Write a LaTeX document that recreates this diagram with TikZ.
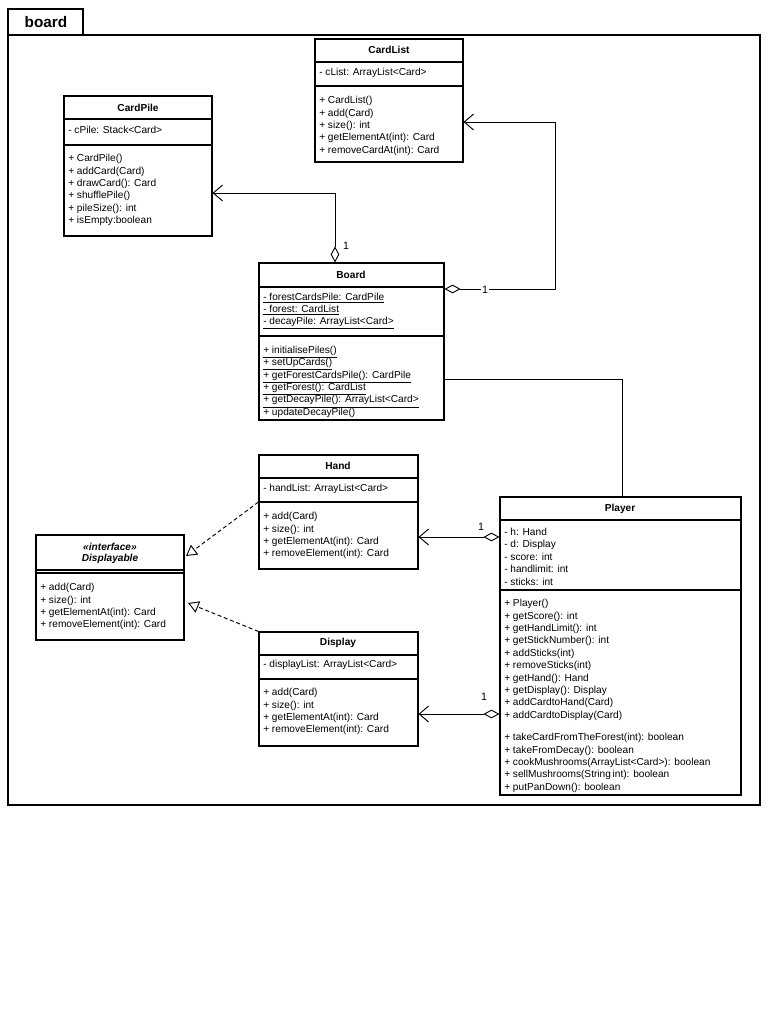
\documentclass[tikz,border=0pt]{standalone}
\usepackage{fontspec}
\setmainfont{Liberation Sans}
\usetikzlibrary{arrows.meta,fit}
\begin{document}
\begin{tikzpicture}[x=0.75pt,y=-0.75pt,
  box/.style={draw,inner sep=0pt,line width=0.8pt},
  txt/.style={anchor=west,inner sep=0pt,font=\fontsize{7.6}{9}\selectfont},
  ttl/.style={inner sep=0pt,font=\fontsize{7.6}{9}\selectfont\bfseries},
  sep/.style={line width=0.8pt},
  assoc/.style={line width=0.7pt,{Diamond[open,length=12pt,width=6.5pt]}-{Straight Barb[length=7pt,width=12pt]}},
  real/.style={densely dashed,line width=0.7pt,-{Triangle[open,length=8pt,width=9pt]}},
  lbl/.style={inner sep=0pt,font=\fontsize{8}{9}\selectfont}]
\newcommand\mylines[3]{\foreach \t [count=\i from 0] in {#3}{\node[txt] at (#1+4,#2+\i*12.4) {\t};}}
\useasboundingbox (0,0) rectangle (768,1024);
\fill[white] (0,0) rectangle (768,1024);
% frame
\node[box,fit={(8,35) (760,805)}] (frame) {};
\node[box,fit={(8,9) (83,35)}] (tab) {};
\node[inner sep=0pt,font=\fontsize{11.5}{12}\selectfont\bfseries] at (46,22) {board};
% CardList
\node[box,fit={(315,39) (463,162)}] (cardlist) {};
\node[ttl] at (389,50) {CardList};
\draw[sep] (315,62)--(463,62) (315,86)--(463,86);
\mylines{315}{73}{- cList: ArrayList<Card>}
\mylines{315}{101}{+ CardList(),+ add(Card),+ size(): int,+ getElementAt(int): Card,+ removeCardAt(int): Card}
% CardPile
\node[box,fit={(64,96) (212,236)}] (cardpile) {};
\node[ttl] at (138,108) {CardPile};
\draw[sep] (64,119)--(212,119) (64,145)--(212,145);
\mylines{64}{130}{- cPile: Stack<Card>}
\mylines{64}{159}{+ CardPile(),+ addCard(Card),+ drawCard(): Card,+ shufflePile(),+ pileSize(): int,+ isEmpty:boolean}
% Board
\node[box,fit={(259,263) (444,420)}] (board) {};
\node[ttl] at (351,275) {Board};
\draw[sep] (259,287)--(444,287) (259,336)--(444,336);
\mylines{259}{298}{\underline{- forestCardsPile: CardPile},\underline{- forest: CardList},\underline{- decayPile: ArrayList<Card>}}
\mylines{259}{352}{\underline{+ initialisePiles()},\underline{+ setUpCards()},\underline{+ getForestCardsPile(): CardPile},\underline{+ getForest(): CardList},\underline{+ getDecayPile(): ArrayList<Card>},\underline{+ updateDecayPile()}}
% Hand
\node[box,fit={(259,455) (418,569)}] (hand) {};
\node[ttl] at (338,466) {Hand};
\draw[sep] (259,478)--(418,478) (259,502)--(418,502);
\mylines{259}{489}{- handList: ArrayList<Card>}
\mylines{259}{517}{+ add(Card),+ size(): int,+ getElementAt(int): Card,+ removeElement(int): Card}
% Displayable
\node[box,fit={(36,535) (184,640)}] (displayable) {};
\node[inner sep=0pt,font=\fontsize{7.6}{9}\selectfont\bfseries\itshape] at (110,547) {<<interface>>};
\node[inner sep=0pt,font=\fontsize{7.6}{9}\selectfont\bfseries\itshape] at (110,559) {Displayable};
\draw[sep] (36,570)--(184,570) (36,573)--(184,573);
\mylines{36}{588}{+ add(Card),+ size(): int,+ getElementAt(int): Card,+ removeElement(int): Card}
% Display
\node[box,fit={(259,632) (418,746)}] (display) {};
\node[ttl] at (338,643) {Display};
\draw[sep] (259,655)--(418,655) (259,679)--(418,679);
\mylines{259}{665}{- displayList: ArrayList<Card>}
\mylines{259}{693}{+ add(Card),+ size(): int,+ getElementAt(int): Card,+ removeElement(int): Card}
% Player
\node[box,fit={(500,497) (741,795)}] (player) {};
\node[ttl] at (620,509) {Player};
\draw[sep] (500,520)--(741,520) (500,590)--(741,590);
\mylines{500}{532}{- h: Hand,- d: Display,- score: int,- handlimit: int,- sticks: int}
\mylines{500}{604}{+ Player(),+ getScore(): int,+ getHandLimit(): int,+ getStickNumber(): int,+ addSticks(int),+ removeSticks(int),+ getHand(): Hand,+ getDisplay(): Display,+ addCardtoHand(Card),+ addCardtoDisplay(Card)}
\mylines{500}{738}{+ takeCardFromTheForest(int): boolean,+ takeFromDecay(): boolean,+ cookMushrooms(ArrayList<Card>): boolean,+ sellMushrooms(String\,int): boolean,+ putPanDown(): boolean}
% connectors
\draw[assoc] (board.north -| 335,0) |- (cardpile.east |- 0,193);
\node[lbl] at (346,246) {1};
\draw[assoc] (board.east |- 0,289) -| (555,122) -- (cardlist.east |- 0,122);
\node[lbl,fill=white,inner sep=1pt] at (485,290) {1};
\draw[line width=0.7pt] (board.east |- 0,379) -| (player.north -| 622,0);
\draw[assoc] (player.west |- 0,537) -- (hand.east |- 0,537);
\node[lbl] at (481,527) {1};
\draw[assoc] (player.west |- 0,714) -- (display.east |- 0,714);
\node[lbl] at (484,697) {1};
\draw[real] (hand.west |- 0,502) -- (186,556);
\draw[real] (display.north west) -- (188,603);
\end{tikzpicture}
\end{document}
